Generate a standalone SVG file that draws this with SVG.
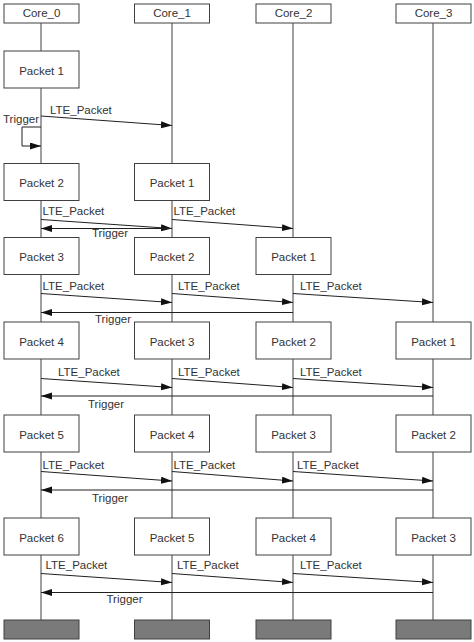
<svg xmlns="http://www.w3.org/2000/svg" width="474" height="642" viewBox="0 0 474 642">
<style>
.box{fill:#fff;stroke:#404040;stroke-width:1}
.foot{fill:#7a7a7a;stroke:#404040;stroke-width:1}
.life{stroke:#404040;stroke-width:1;fill:none}
.msg{stroke:#202020;stroke-width:1;fill:none;marker-end:url(#ah)}
.t{font-family:"Liberation Sans",Arial,sans-serif;font-size:11.5px;fill:#333}
.c{text-anchor:middle}
</style>
<defs>
<marker id="ah" markerUnits="userSpaceOnUse" markerWidth="11" markerHeight="8" refX="11" refY="3.5" orient="auto">
<path d="M0,0 L11,3.5 L0,7 z" fill="#111"/>
</marker>
</defs>
<rect width="474" height="642" fill="#fff"/>
<g id="lifelines">
<line class="life" x1="41" y1="23" x2="41" y2="620"/>
<line class="life" x1="172" y1="23" x2="172" y2="620"/>
<line class="life" x1="293" y1="23" x2="293" y2="620"/>
<line class="life" x1="433" y1="23" x2="433" y2="620"/>
</g>
<g id="core0"><rect class="box" x="4" y="4" width="75" height="19"/><text class="t c" x="41.5" y="17">Core_0</text></g>
<g id="core1"><rect class="box" x="134.5" y="4" width="75" height="19"/><text class="t c" x="172" y="17">Core_1</text></g>
<g id="core2"><rect class="box" x="256" y="4" width="75" height="19"/><text class="t c" x="293.5" y="17">Core_2</text></g>
<g id="core3"><rect class="box" x="396" y="4" width="75" height="19"/><text class="t c" x="433.5" y="17">Core_3</text></g>

<g id="r1c0"><rect class="box" x="4" y="51" width="75" height="37"/><text class="t c" x="41.5" y="75">Packet 1</text></g>

<g id="r2c0"><rect class="box" x="4" y="163.5" width="75" height="37"/><text class="t c" x="41.5" y="187">Packet 2</text></g>
<g id="r2c1"><rect class="box" x="134.5" y="163.5" width="75" height="37"/><text class="t c" x="172" y="187">Packet 1</text></g>

<g id="r3c0"><rect class="box" x="4" y="237.5" width="75" height="37"/><text class="t c" x="41.5" y="261">Packet 3</text></g>
<g id="r3c1"><rect class="box" x="134.5" y="237.5" width="75" height="37"/><text class="t c" x="172" y="261">Packet 2</text></g>
<g id="r3c2"><rect class="box" x="256" y="237.5" width="75" height="37"/><text class="t c" x="293.5" y="261">Packet 1</text></g>

<g id="r4c0"><rect class="box" x="4" y="322" width="75" height="37"/><text class="t c" x="41.5" y="345.5">Packet 4</text></g>
<g id="r4c1"><rect class="box" x="134.5" y="322" width="75" height="37"/><text class="t c" x="172" y="345.5">Packet 3</text></g>
<g id="r4c2"><rect class="box" x="256" y="322" width="75" height="37"/><text class="t c" x="293.5" y="345.5">Packet 2</text></g>
<g id="r4c3"><rect class="box" x="396" y="322" width="75" height="37"/><text class="t c" x="433.5" y="345.5">Packet 1</text></g>

<g id="r5c0"><rect class="box" x="4" y="415" width="75" height="37"/><text class="t c" x="41.5" y="438.5">Packet 5</text></g>
<g id="r5c1"><rect class="box" x="134.5" y="415" width="75" height="37"/><text class="t c" x="172" y="438.5">Packet 4</text></g>
<g id="r5c2"><rect class="box" x="256" y="415" width="75" height="37"/><text class="t c" x="293.5" y="438.5">Packet 3</text></g>
<g id="r5c3"><rect class="box" x="396" y="415" width="75" height="37"/><text class="t c" x="433.5" y="438.5">Packet 2</text></g>

<g id="r6c0"><rect class="box" x="4" y="518" width="75" height="37"/><text class="t c" x="41.5" y="541.5">Packet 6</text></g>
<g id="r6c1"><rect class="box" x="134.5" y="518" width="75" height="37"/><text class="t c" x="172" y="541.5">Packet 5</text></g>
<g id="r6c2"><rect class="box" x="256" y="518" width="75" height="37"/><text class="t c" x="293.5" y="541.5">Packet 4</text></g>
<g id="r6c3"><rect class="box" x="396" y="518" width="75" height="37"/><text class="t c" x="433.5" y="541.5">Packet 3</text></g>

<g id="foot0"><rect class="foot" x="4" y="620" width="75" height="19"/></g>
<g id="foot1"><rect class="foot" x="134.5" y="620" width="75" height="19"/></g>
<g id="foot2"><rect class="foot" x="256" y="620" width="75" height="19"/></g>
<g id="foot3"><rect class="foot" x="396" y="620" width="75" height="19"/></g>

<g id="connectors">
<!-- row 1 -->
<line class="msg" x1="41" y1="116" x2="172" y2="125.5"/>
<text class="t" x="50" y="114">LTE_Packet</text>
<polyline class="msg" points="41,127 22,127 22,146 41,146"/>
<text class="t" x="3" y="122.5">Trigger</text>
<!-- row 2 -->
<line class="msg" x1="41" y1="219.5" x2="172" y2="228.5"/>
<line class="msg" x1="172" y1="219.5" x2="293" y2="228.5"/>
<text class="t" x="42.5" y="215">LTE_Packet</text>
<text class="t" x="173.5" y="215">LTE_Packet</text>
<line class="msg" x1="172" y1="228.5" x2="41" y2="228.5"/>
<text class="t" x="92" y="237">Trigger</text>
<!-- row 3 -->
<line class="msg" x1="41" y1="293.5" x2="172" y2="302.5"/>
<line class="msg" x1="172" y1="293.5" x2="293" y2="302.5"/>
<line class="msg" x1="293" y1="293.5" x2="433" y2="302.5"/>
<text class="t" x="42.5" y="290">LTE_Packet</text>
<text class="t" x="178" y="290">LTE_Packet</text>
<text class="t" x="300" y="290">LTE_Packet</text>
<line class="msg" x1="293" y1="312.5" x2="41" y2="312.5"/>
<text class="t" x="95" y="322.5">Trigger</text>
<!-- row 4 -->
<line class="msg" x1="41" y1="378.5" x2="172" y2="387.5"/>
<line class="msg" x1="172" y1="378.5" x2="293" y2="387.5"/>
<line class="msg" x1="293" y1="378.5" x2="433" y2="387.5"/>
<text class="t" x="58" y="376">LTE_Packet</text>
<text class="t" x="178" y="376">LTE_Packet</text>
<text class="t" x="300" y="376">LTE_Packet</text>
<line class="msg" x1="433" y1="396" x2="41" y2="396"/>
<text class="t" x="88" y="408">Trigger</text>
<!-- row 5 -->
<line class="msg" x1="41" y1="471.5" x2="172" y2="481"/>
<line class="msg" x1="172" y1="471.5" x2="293" y2="481"/>
<line class="msg" x1="293" y1="471.5" x2="433" y2="481"/>
<text class="t" x="42.5" y="468.5">LTE_Packet</text>
<text class="t" x="173.5" y="468.5">LTE_Packet</text>
<text class="t" x="297" y="468.5">LTE_Packet</text>
<line class="msg" x1="433" y1="490" x2="41" y2="490"/>
<text class="t" x="92" y="501.5">Trigger</text>
<!-- row 6 -->
<line class="msg" x1="41" y1="573.5" x2="172" y2="582.5"/>
<line class="msg" x1="172" y1="573.5" x2="293" y2="582.5"/>
<line class="msg" x1="293" y1="573.5" x2="433" y2="582.5"/>
<text class="t" x="45.5" y="569">LTE_Packet</text>
<text class="t" x="177" y="569">LTE_Packet</text>
<text class="t" x="300" y="569">LTE_Packet</text>
<line class="msg" x1="433" y1="592.5" x2="41" y2="592.5"/>
<text class="t" x="106.5" y="602.5">Trigger</text>
</g>
</svg>
